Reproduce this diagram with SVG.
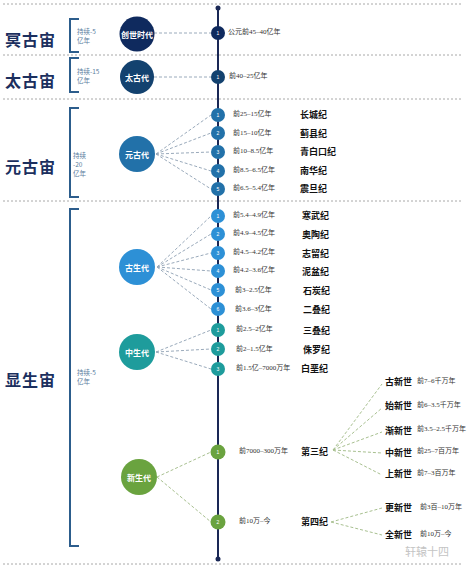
<svg xmlns="http://www.w3.org/2000/svg" width="474" height="570" viewBox="0 0 474 570">
<style>
.sep{stroke:#a8a8a8;stroke-width:1;stroke-dasharray:2 2;fill:none}
.brk{stroke:#2c5d8c;stroke-width:2;fill:none}
.eon{font-family:"Noto Sans CJK SC",sans-serif;font-weight:700;font-size:16px;fill:#1b2f5e;letter-spacing:1px}
.dur{font-family:"Noto Sans CJK SC",sans-serif;font-size:6.5px;fill:#5a7d9e}
.era{font-family:"Noto Sans CJK SC",sans-serif;font-weight:700;font-size:8px;fill:#fff;text-anchor:middle;dominant-baseline:central}
.num{font-family:"Liberation Sans",sans-serif;font-size:5px;fill:#fff;text-anchor:middle;dominant-baseline:central}
.date{font-family:"Liberation Serif","Noto Sans CJK SC",serif;font-size:7px;fill:#333;dominant-baseline:central}
.per{font-family:"Noto Sans CJK SC",sans-serif;font-weight:700;font-size:9px;fill:#111;dominant-baseline:central}
.con{stroke:#9aaabb;stroke-width:1;stroke-dasharray:3 2;fill:none}
.cong{stroke:#a8c090;stroke-width:1;stroke-dasharray:3 2;fill:none}
.axis{stroke:#1a2856;stroke-width:2}
</style>
<g id="separators">
<line class="sep" x1="3" y1="4" x2="462" y2="4"/>
<line class="sep" x1="3" y1="55" x2="462" y2="55"/>
<line class="sep" x1="3" y1="99" x2="462" y2="99"/>
<line class="sep" x1="3" y1="201" x2="462" y2="201"/>
<line class="sep" x1="3" y1="564" x2="462" y2="564"/>
</g>
<g id="eons">
<text class="eon" x="5" y="46">冥古宙</text>
<text class="eon" x="5" y="87">太古宙</text>
<text class="eon" x="5" y="173">元古宙</text>
<text class="eon" x="5" y="386">显生宙</text>
<path class="brk" d="M79,19 H70 V52 H79"/>
<path class="brk" d="M79,58 H70 V92 H79"/>
<path class="brk" d="M79,108 H70 V197 H79"/>
<path class="brk" d="M79,209 H70 V546 H79"/>
<text class="dur" x="77" y="34">持续-5</text><text class="dur" x="77" y="43">亿年</text>
<text class="dur" x="77" y="74">持续-15</text><text class="dur" x="77" y="83">亿年</text>
<text class="dur" x="73" y="158">持续</text><text class="dur" x="73" y="167">-20</text><text class="dur" x="73" y="176">亿年</text>
<text class="dur" x="77" y="375">持续-5</text><text class="dur" x="77" y="384">亿年</text>
</g>
<g id="connectors">
<line class="axis" x1="218" y1="8" x2="218" y2="559"/>
<line class="con" x1="154" y1="33" x2="211" y2="33"/>
<line class="con" x1="154" y1="77" x2="211" y2="77"/>
<line class="con" x1="156" y1="154" x2="211" y2="115"/>
<line class="con" x1="156" y1="154" x2="211" y2="133"/>
<line class="con" x1="156" y1="154" x2="211" y2="152"/>
<line class="con" x1="156" y1="154" x2="211" y2="171"/>
<line class="con" x1="156" y1="154" x2="211" y2="189"/>
<line class="con" x1="157" y1="267" x2="211" y2="216"/>
<line class="con" x1="157" y1="267" x2="211" y2="234"/>
<line class="con" x1="157" y1="267" x2="211" y2="253"/>
<line class="con" x1="157" y1="267" x2="211" y2="271"/>
<line class="con" x1="157" y1="267" x2="211" y2="290"/>
<line class="con" x1="157" y1="267" x2="211" y2="309"/>
<line class="con" x1="156" y1="352" x2="211" y2="330"/>
<line class="con" x1="156" y1="352" x2="211" y2="349"/>
<line class="con" x1="156" y1="352" x2="211" y2="369"/>
<line class="cong" x1="157" y1="477" x2="211" y2="452"/>
<line class="cong" x1="157" y1="477" x2="211" y2="522"/>
<line class="cong" x1="333" y1="450" x2="382" y2="384"/>
<line class="cong" x1="333" y1="450" x2="382" y2="408"/>
<line class="cong" x1="333" y1="450" x2="382" y2="432"/>
<line class="cong" x1="333" y1="450" x2="382" y2="453"/>
<line class="cong" x1="333" y1="450" x2="382" y2="475"/>
<line class="cong" x1="331" y1="522" x2="382" y2="508"/>
<line class="cong" x1="331" y1="522" x2="382" y2="535"/>
<circle cx="218" cy="8" r="2.5" fill="#1a2856"/>
<circle cx="218" cy="559" r="2.5" fill="#1a2856"/>
</g>
<g id="era-chuangshi"><circle cx="137" cy="34" r="17.5" fill="#0f2a5e"/><text class="era" x="137" y="34">创世时代</text></g>
<g id="era-taigu"><circle cx="137" cy="77" r="17" fill="#13426f"/><text class="era" x="137" y="77">太古代</text></g>
<g id="era-yuangu"><circle cx="137" cy="154" r="18" fill="#2271a9"/><text class="era" x="137" y="154">元古代</text></g>
<g id="era-gusheng"><circle cx="137" cy="267" r="18" fill="#2d90d6"/><text class="era" x="137" y="267">古生代</text></g>
<g id="era-zhongsheng"><circle cx="137" cy="352" r="18" fill="#1e9c9c"/><text class="era" x="137" y="352">中生代</text></g>
<g id="era-xinsheng"><circle cx="139" cy="477" r="18" fill="#6aa33f"/><text class="era" x="139" y="477">新生代</text></g>
<g id="node-mingu"><circle cx="218" cy="33" r="7" fill="#0f2a5e"/><text class="num" x="218" y="33">1</text><text class="date" x="228" y="32">公元前45–40亿年</text></g>
<g id="node-taigu"><circle cx="218" cy="77" r="7" fill="#13426f"/><text class="num" x="218" y="77">1</text><text class="date" x="229" y="76">前40–25亿年</text></g>
<g id="node-y1"><circle cx="218" cy="115" r="7" fill="#2271a9"/><text class="num" x="218" y="115">1</text><text class="date" x="233" y="114">前25–15亿年</text><text class="per" x="300" y="114">长城纪</text></g>
<g id="node-y2"><circle cx="218" cy="133" r="7" fill="#2271a9"/><text class="num" x="218" y="133">2</text><text class="date" x="233" y="133">前15–10亿年</text><text class="per" x="300" y="133">蓟县纪</text></g>
<g id="node-y3"><circle cx="218" cy="152" r="7" fill="#2271a9"/><text class="num" x="218" y="152">3</text><text class="date" x="233" y="151">前10–8.5亿年</text><text class="per" x="300" y="151">青白口纪</text></g>
<g id="node-y4"><circle cx="218" cy="171" r="7" fill="#2271a9"/><text class="num" x="218" y="171">4</text><text class="date" x="233" y="170">前8.5–6.5亿年</text><text class="per" x="300" y="170">南华纪</text></g>
<g id="node-y5"><circle cx="218" cy="189" r="7" fill="#2271a9"/><text class="num" x="218" y="189">5</text><text class="date" x="233" y="188">前6.5–5.4亿年</text><text class="per" x="300" y="188">震旦纪</text></g>
<g id="node-g1"><circle cx="218" cy="216" r="7" fill="#2d90d6"/><text class="num" x="218" y="216">1</text><text class="date" x="233" y="215">前5.4–4.9亿年</text><text class="per" x="302" y="215">寒武纪</text></g>
<g id="node-g2"><circle cx="218" cy="234" r="7" fill="#2d90d6"/><text class="num" x="218" y="234">2</text><text class="date" x="233" y="233">前4.9–4.5亿年</text><text class="per" x="302" y="234">奥陶纪</text></g>
<g id="node-g3"><circle cx="218" cy="253" r="7" fill="#2d90d6"/><text class="num" x="218" y="253">3</text><text class="date" x="233" y="252">前4.5–4.2亿年</text><text class="per" x="302" y="253">志留纪</text></g>
<g id="node-g4"><circle cx="218" cy="271" r="7" fill="#2d90d6"/><text class="num" x="218" y="271">4</text><text class="date" x="233" y="270">前4.2–3.6亿年</text><text class="per" x="302" y="271">泥盆纪</text></g>
<g id="node-g5"><circle cx="218" cy="290" r="7" fill="#2d90d6"/><text class="num" x="218" y="290">5</text><text class="date" x="235" y="290">前3–2.5亿年</text><text class="per" x="303" y="290">石炭纪</text></g>
<g id="node-g6"><circle cx="218" cy="309" r="7" fill="#2d90d6"/><text class="num" x="218" y="309">6</text><text class="date" x="235" y="309">前3.6–3亿年</text><text class="per" x="303" y="309">二叠纪</text></g>
<g id="node-z1"><circle cx="218" cy="330" r="7" fill="#1e9c9c"/><text class="num" x="218" y="330">1</text><text class="date" x="236" y="329">前2.5–2亿年</text><text class="per" x="303" y="330">三叠纪</text></g>
<g id="node-z2"><circle cx="218" cy="349" r="7" fill="#1e9c9c"/><text class="num" x="218" y="349">2</text><text class="date" x="236" y="349">前2–1.5亿年</text><text class="per" x="303" y="349">侏罗纪</text></g>
<g id="node-z3"><circle cx="218" cy="369" r="7" fill="#1e9c9c"/><text class="num" x="218" y="369">3</text><text class="date" x="236" y="368">前1.5亿–7000万年</text><text class="per" x="301" y="368">白垩纪</text></g>
<g id="node-x1"><circle cx="218" cy="452" r="7.5" fill="#6aa33f"/><text class="num" x="218" y="452">1</text><text class="date" x="239" y="451">前7000–300万年</text><text class="per" x="301" y="451">第三纪</text></g>
<g id="node-x2"><circle cx="218" cy="522" r="7.5" fill="#6aa33f"/><text class="num" x="218" y="522">2</text><text class="date" x="239" y="521">前10万–今</text><text class="per" x="301" y="521">第四纪</text></g>
<g id="epochs">
<text class="per" x="385" y="381">古新世</text><text class="date" x="417" y="381">前7–6千万年</text>
<text class="per" x="385" y="405">始新世</text><text class="date" x="417" y="405">前6–3.5千万年</text>
<text class="per" x="385" y="430">渐新世</text><text class="date" x="417" y="429">前3.5–2.5千万年</text>
<text class="per" x="385" y="452">中新世</text><text class="date" x="417" y="451">前25–7百万年</text>
<text class="per" x="385" y="473">上新世</text><text class="date" x="417" y="473">前7–3百万年</text>
<text class="per" x="385" y="507">更新世</text><text class="date" x="420" y="507">前3百–10万年</text>
<text class="per" x="385" y="534">全新世</text><text class="date" x="420" y="534">前10万–今</text>
</g>
<g id="watermark">
<text x="405" y="556" font-family="Noto Sans CJK SC,sans-serif" font-size="11" fill="#c4c4c4">轩辕十四</text>
</g>
</svg>
